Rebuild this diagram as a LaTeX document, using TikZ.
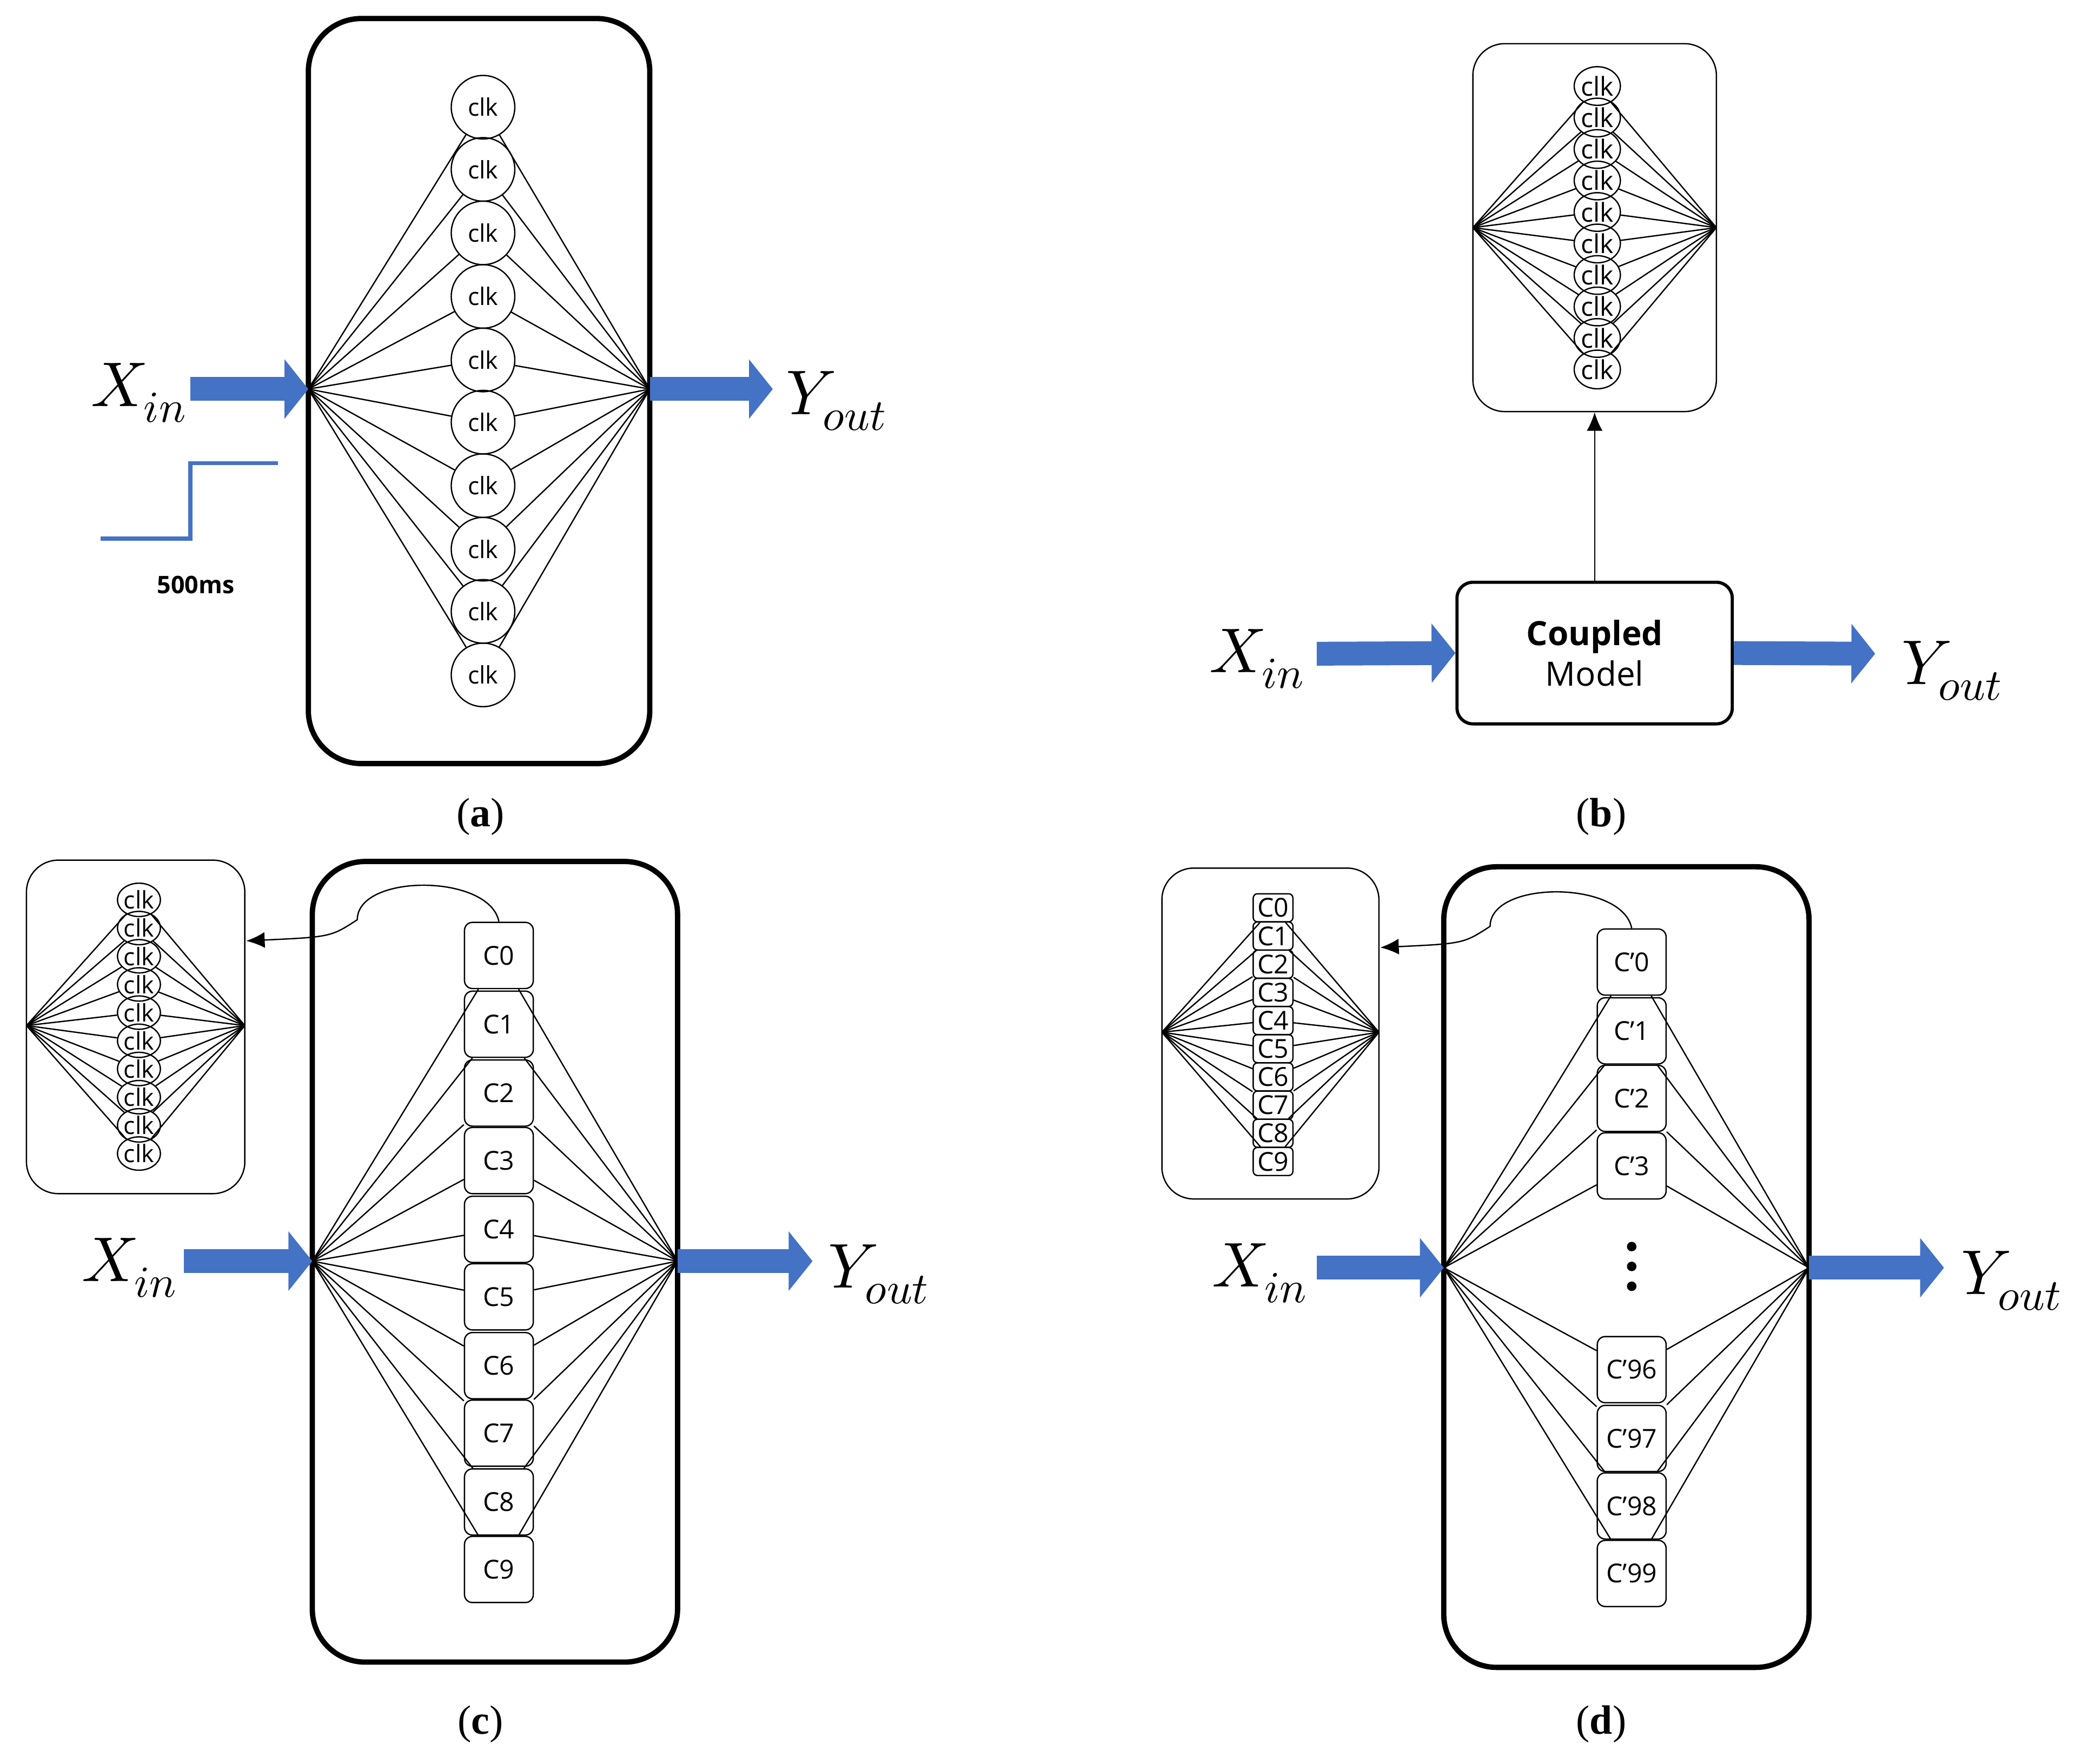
\documentclass[tikz,border=0pt]{standalone}
\usepackage{fontspec}
\setmainfont{Open Sans}
\newfontfamily\capserif{Liberation Serif}
\usepackage{unicode-math}
\setmathfont{Latin Modern Math}
\usetikzlibrary{arrows.meta,shapes.geometric}
\definecolor{ablue}{HTML}{4472C4}
\begin{document}
\begin{tikzpicture}[x=0.25mm,y=-0.25mm,
 frame/.style={draw,line width=1mm,rounded corners=10mm},
 sframe/.style={draw,line width=0.25mm,rounded corners=6mm},
 thin/.style={line width=0.25mm},
 clk/.style={draw,circle,minimum size=12mm,inner sep=0,thin,font=\fontsize{13}{13}\selectfont},
 sclk/.style={draw,ellipse,minimum width=8.5mm,minimum height=7.3mm,inner sep=0,thin,font=\fontsize{14}{14}\selectfont},
 cnode/.style={draw,rounded corners=1.5mm,minimum width=13mm,minimum height=12.5mm,inner sep=0,thin,font=\fontsize{14}{14}\selectfont},
 snode/.style={draw,rounded corners=0.8mm,minimum width=7.5mm,minimum height=5.3mm,inner sep=0,thin,font=\fontsize{14}{14}\selectfont},
 big/.style={draw=ablue,fill=ablue,line width=4.5mm,-{Triangle[width=11mm,length=4.5mm]}},
 lab/.style={font=\fontsize{34}{34}\selectfont},
 captxt/.style={font=\fontsize{22}{22}\selectfont\capserif}]
\useasboundingbox (0,0) rectangle (1568,1333);
% ---------- (a)
\node[frame,minimum width=64.5mm,minimum height=140.75mm] (fa) at (362,295.5) {};
\coordinate (la) at (233,294); \coordinate (ra) at (491,294);
\foreach \i/\y in {0/81,1/128,2/176,3/224,4/272,5/319,6/367,7/415,8/462,9/510}{
 \node[clk] (a\i) at (365,\y) {clk};
 \draw[thin] (la) -- (a\i) -- (ra);}
\coordinate (xa) at (144,294); \coordinate (ya) at (584,294);
\draw[big] (xa) -- (la);
\draw[big] (ra) -- (ya);
\node[lab] (txa) at (105,297) {$X_{in}$};
\node[lab] (tya) at (632,303) {$Y_{out}$};
\draw[ablue,line width=0.8mm] (76,407) -- (144,407) -- (144,350) -- (210,350);
\node[font=\fontsize{13}{13}\selectfont\bfseries] (ms) at (148,442) {500ms};
\node[captxt] (ca) at (363,617) {(\textbf{a})};
% ---------- (b)
\node[sframe,minimum width=46mm,minimum height=69.5mm] (fb) at (1205,172) {};
\coordinate (lb) at (1113,172); \coordinate (rb) at (1297,172);
\foreach \i in {0,...,9}{
 \node[sclk] (b\i) at (1207,{65+\i*23.8}) {clk};
 \draw[thin] (lb) -- (b\i) -- (rb);}
\node[draw,line width=0.6mm,rounded corners=3mm,minimum width=52mm,minimum height=26.75mm,align=center,font=\fontsize{18}{22}\selectfont] (cm) at (1205,493.5) {\textbf{Coupled}\\Model};
\draw[thin,-{Latex[length=3.5mm,width=3mm]}] (cm.north) -- (fb.south);
\coordinate (xb) at (995,494); \coordinate (yb) at (1417,494);
\draw[big] (xb) -- (cm.west);
\draw[big] (cm.east) -- (yb);
\node[lab] (txb) at (950,498) {$X_{in}$};
\node[lab] (tyb) at (1475,507) {$Y_{out}$};
\node[captxt] (cb) at (1210,617) {(\textbf{b})};
% ---------- (c)
\node[sframe,minimum width=41.25mm,minimum height=63mm] (sc) at (102.5,776) {};
\coordinate (lsc) at (20,775); \coordinate (rsc) at (185,775);
\foreach \i in {0,...,9}{
 \node[sclk,minimum width=8mm,minimum height=6.3mm,font=\fontsize{13}{13}\selectfont] (s\i) at (105,{680+\i*21.3}) {clk};
 \draw[thin] (lsc) -- (s\i) -- (rsc);}
\node[frame,minimum width=69mm,minimum height=151.25mm] (fc) at (374,953.5) {};
\coordinate (lc) at (236,953); \coordinate (rc) at (512,953);
\foreach \i/\y in {0/722,1/774,2/826,3/877,4/929,5/980,6/1032,7/1083,8/1135,9/1186}{
 \node[cnode] (c\i) at (377,\y) {C\i};
 \draw[thin] (lc) -- (c\i) -- (rc);}
\coordinate (ec) at (186,711);
\draw[thin,-{Latex[length=3.5mm,width=3mm]}] (c0.north) .. controls (370,660) and (270,660) .. (270,695) .. controls (250,708) .. (ec);
\coordinate (xc) at (139,953); \coordinate (yc) at (614,953);
\draw[big] (xc) -- (lc);
\draw[big] (rc) -- (yc);
\node[lab] (txc) at (98,958) {$X_{in}$};
\node[lab] (tyc) at (664,963) {$Y_{out}$};
\node[captxt] (cc) at (363,1303) {(\textbf{c})};
% ---------- (d)
\node[sframe,minimum width=41mm,minimum height=62.5mm] (sd) at (960,781) {};
\coordinate (lsd) at (878,780); \coordinate (rsd) at (1042,780);
\foreach \i in {0,...,9}{
 \node[snode] (t\i) at (962,{686+\i*21.3}) {C\i};
 \draw[thin] (lsd) -- (t\i) -- (rsd);}
\node[frame,minimum width=69mm,minimum height=151.25mm] (fd) at (1229,957.5) {};
\coordinate (ld) at (1091,958); \coordinate (rd) at (1367,958);
\foreach \n/\y in {0/727,1/779,2/830,3/881,96/1035,97/1087,98/1138,99/1189}{
 \node[cnode] (d\n) at (1233,\y) {C’\n};
 \draw[thin] (ld) -- (d\n) -- (rd);}
\foreach \y in {942,957,972} \fill (1233,\y) circle (0.9mm);
\coordinate (ed) at (1043,716);
\draw[thin,-{Latex[length=3.5mm,width=3mm]}] (d0.north) .. controls (1226,665) and (1126,665) .. (1126,700) .. controls (1106,713) .. (ed);
\coordinate (xd) at (995,958); \coordinate (yd) at (1469,958);
\draw[big] (xd) -- (ld);
\draw[big] (rd) -- (yd);
\node[lab] (txd) at (952,962) {$X_{in}$};
\node[lab] (tyd) at (1520,968) {$Y_{out}$};
\node[captxt] (cd) at (1210,1303) {(\textbf{d})};
\end{tikzpicture}
\end{document}
